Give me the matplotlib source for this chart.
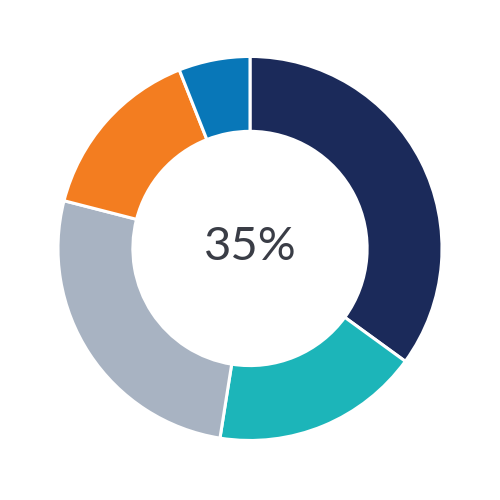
import matplotlib
matplotlib.use('Agg')
import matplotlib.pyplot as plt

# segment shares, clockwise from 12 o'clock
labels = ["Navy", "Teal", "Gray", "Orange", "Blue"]
shares = [35, 17.5, 26.5, 15, 6]
colors = ['#1b2a5a', '#1cb5b9', '#a8b3c2', '#f37d20', '#0877b8']
center_label = "35%"

fig = plt.figure(figsize=(5, 5), dpi=100)
ax = fig.add_axes([0, 0, 1, 1])
ax.pie(shares, colors=colors, startangle=90, counterclock=False,
       radius=1.0, wedgeprops=dict(width=0.39, edgecolor='white', linewidth=2.2))
ax.text(0, 0.01, center_label, ha='center', va='center', fontsize=34,
        color='#3a3d46', family=['Lato', 'DejaVu Sans'])
ax.set_xlim(-1.302, 1.302)
ax.set_ylim(-1.31, 1.294)
ax.set_aspect('equal')
ax.axis('off')

fig.savefig('out.png', dpi=100, facecolor='white')
